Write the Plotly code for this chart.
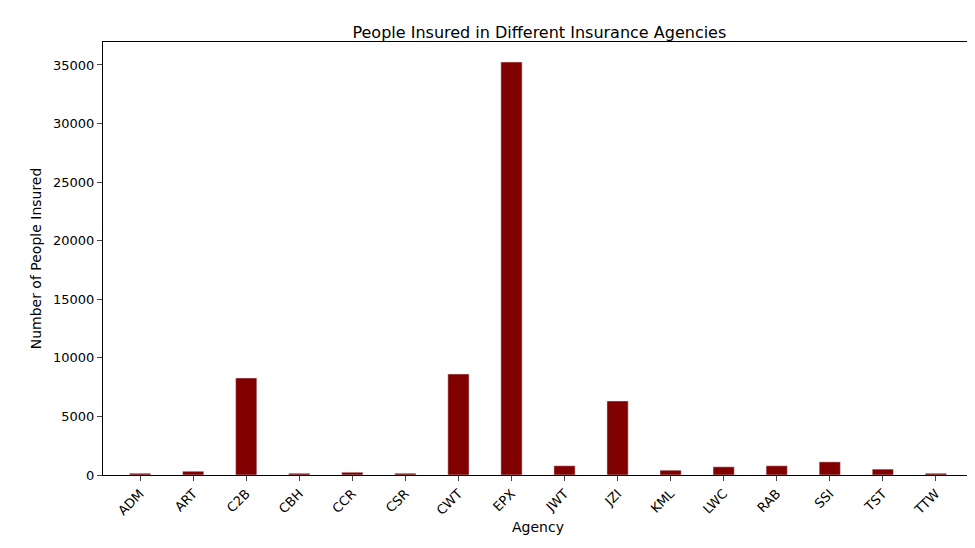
import plotly.graph_objects as go

agencies = ["ADM","ART","C2B","CBH","CCR","CSR","CWT","EPX","JWT","JZI","KML","LWC","RAB","SSI","TST","TTW"]
insured = [150, 320, 8280, 150, 235, 150, 8620, 35250, 790, 6320, 410, 700, 790, 1120, 500, 150]

fig = go.Figure(go.Bar(x=agencies, y=insured, marker_color="#800000", width=0.4))
fig.update_layout(
    width=975, height=548,
    paper_bgcolor="white", plot_bgcolor="white",
    margin=dict(l=95, r=10, t=34, b=81, autoexpand=False),
    font=dict(family="DejaVu Sans", size=13, color="black"),
    title=dict(text="People Insured in Different Insurance Agencies", x=0.545, xanchor="center", y=0.965, font=dict(size=16)),
    showlegend=False,
)
fig.update_xaxes(title_text="Agency", tickangle=-45, showline=True, linecolor="black", mirror=True,
                 ticks="outside", ticklen=5, range=[-0.7, 15.7], title_standoff=5, title_font=dict(size=14))
fig.update_yaxes(title_text="Number of People Insured", showline=True, linecolor="black", mirror=True,
                 ticks="outside", ticklen=5, range=[0, 36960], dtick=5000, tickformat="d",
                 showgrid=False, zeroline=False, title_font=dict(size=14), title_standoff=8)
fig.write_html("out.html")
